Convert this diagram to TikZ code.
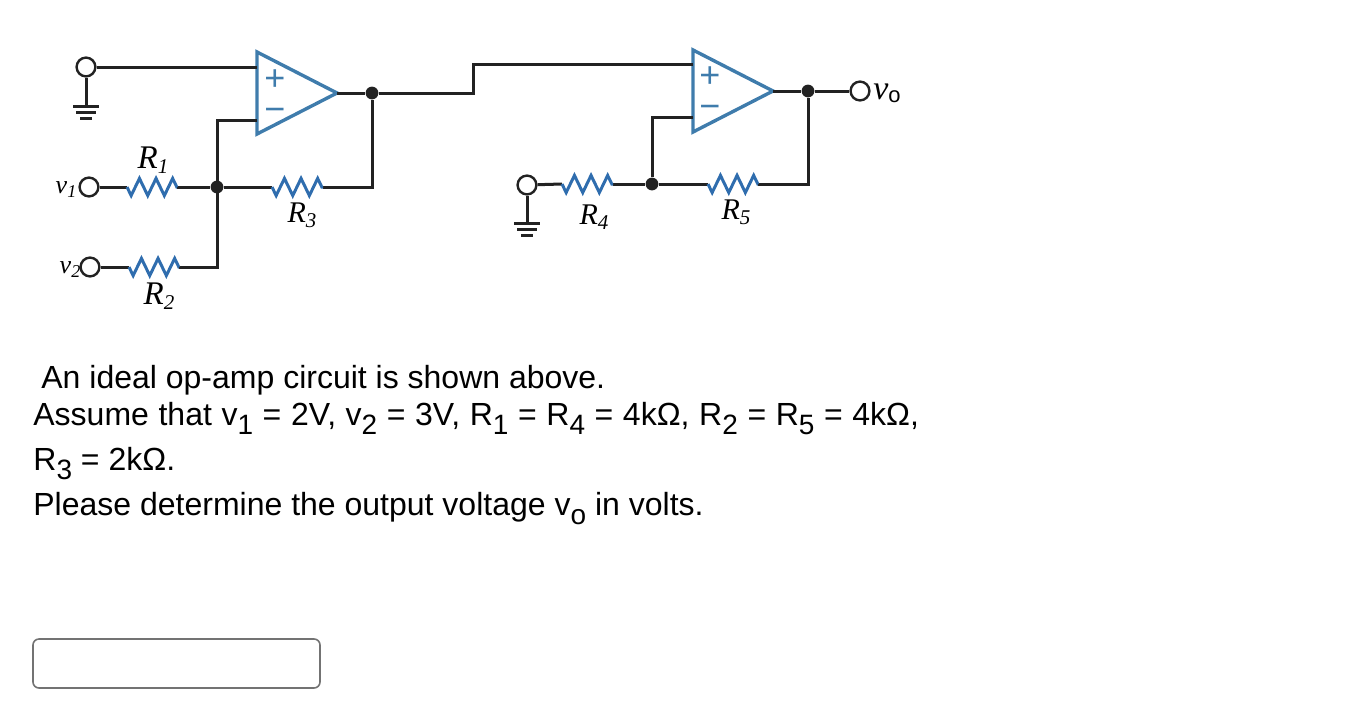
\documentclass[tikz,border=0pt]{standalone}
\usepackage{fontspec}
\setmainfont{Liberation Sans}
\newfontfamily\labelfont{Liberation Serif}
\usetikzlibrary{shapes.geometric,decorations.pathmorphing}
\definecolor{ampblue}{HTML}{3F7CAC}
\definecolor{resblue}{HTML}{2F6DAE}
\definecolor{wirecol}{HTML}{222222}
\newcommand{\lowsub}[1]{\raisebox{-4.6pt}{\fontsize{14pt}{15pt}\selectfont #1}}
\newcommand{\Rlabel}[2]{{\labelfont\fontsize{#1pt}{18pt}\selectfont\itshape R\raisebox{-2.5pt}{\fontsize{10.5pt}{12pt}\selectfont #2}}}
\newcommand{\vlabel}[1]{{\labelfont\fontsize{13pt}{15pt}\selectfont\itshape v\raisebox{-2pt}{\fontsize{9pt}{10pt}\selectfont #1}}}
\begin{document}
\begin{tikzpicture}
		[x=0.5pt,y=-0.5pt,
		wire/.style={draw=wirecol,line width=1.5pt,line join=miter},
		res/.style={draw=resblue,line width=1.5pt,decorate,
decoration={zigzag,segment length=8.3pt,amplitude=4.3pt,mirror}},
		opamp/.style={isosceles triangle,isosceles triangle apex angle=53,isosceles triangle stretches,
draw=ampblue,line width=1.7pt,inner sep=0pt,outer sep=0pt,minimum width=41pt,minimum height=40pt,anchor=apex},
		sign/.style={text=ampblue,font=\fontsize{18pt}{18pt}\selectfont,inner sep=0pt,anchor=base},
		term/.style={circle,draw=wirecol,fill=white,line width=1.2pt,inner sep=0pt,minimum size=9.4pt},
		dot/.style={circle,fill=wirecol,inner sep=0pt,minimum size=6.4pt},
		gndline/.style={draw=wirecol,line width=1.5pt},
		textstyle/.style={anchor=base west,inner sep=0pt,font=\fontsize{16pt}{18pt}\selectfont},
		textlabel/.style={inner sep=0pt}]
		\useasboundingbox (0,0) rectangle (1348,724);
		% first amplifier
		\node at (337, 93) (amp1) [opamp] {};
		\node at (275, 90) (plus1) [sign] {+};
		\node at (275, 121) (minus1) [sign] {−};
		\node at (86, 67) (in1) [term] {};
		\coordinate (amp1p) at (257, 67);
		\coordinate (amp1m) at (257, 120);
		\coordinate (fb1) at (217, 120);
		\coordinate (gnd1) at (86, 106);
		\node at (372, 93) (out1) [dot] {};
		\node at (217, 187) (sum1) [dot] {};
		\node at (89, 187) (v1) [term] {};
		\node at (90, 267) (v2) [term] {};
		\coordinate (r1a) at (127, 187);
		\coordinate (r1b) at (177, 187);
		\coordinate (r2a) at (129, 267);
		\coordinate (r2b) at (179, 267);
		\coordinate (r3a) at (272, 187);
		\coordinate (r3b) at (323, 187);
		\coordinate (back1) at (372, 187);
		\coordinate (tee2) at (217, 267);
		\coordinate (step1) at (473, 93);
		\coordinate (step2) at (473, 64);
		% second amplifier
		\node at (773, 91) (amp2) [opamp] {};
		\node at (710, 87) (plus2) [sign] {+};
		\node at (710, 118) (minus2) [sign] {−};
		\coordinate (amp2p) at (693, 64);
		\coordinate (amp2m) at (693, 117);
		\coordinate (fb2) at (652, 117);
		\node at (652, 184) (sum2) [dot] {};
		\node at (527, 185) (in4) [term] {};
		\coordinate (gnd2) at (527, 223);
		\coordinate (r4a) at (562, 184);
		\coordinate (r4b) at (613, 184);
		\coordinate (r5a) at (708, 184);
		\coordinate (r5b) at (758, 184);
		\coordinate (back2) at (808, 184);
		\node at (808, 91) (out2) [dot] {};
		\node at (860, 91) (vo) [term] {};
		% wires
		\draw[wire] (in1) -- (amp1p);
		\draw[wire] (in1) -- (gnd1);
		\draw[wire] (amp1m) -- (fb1) -- (tee2) -- (r2b);
		\draw[wire] (v1) -- (r1a);
		\draw[wire] (r1b) -- (sum1) -- (r3a);
		\draw[wire] (r3b) -- (back1) -- (out1);
		\draw[wire] (v2) -- (r2a);
		\draw[wire] (amp1.apex) -- (out1) -- (step1) -- (step2) -- (amp2p);
		\draw[wire] (amp2m) -- (fb2) -- (sum2);
		\draw[wire] (in4) -- (gnd2);
		\draw[wire] (in4) -- (r4a);
		\draw[wire] (r4b) -- (sum2) -- (r5a);
		\draw[wire] (r5b) -- (back2) -- (out2);
		\draw[wire] (amp2.apex) -- (out2) -- (vo);
		\draw[res] (r1a) -- (r1b);
		\draw[res] (r2a) -- (r2b);
		\draw[res] (r3a) -- (r3b);
		\draw[res] (r4a) -- (r4b);
		\draw[res] (r5a) -- (r5b);
		% ground bars
		\foreach \g in {gnd1,gnd2} {
			\draw[gndline] ([xshift=-6.5pt]\g) -- ([xshift=6.5pt]\g);
			\draw[gndline] ([xshift=-5pt,yshift=-3pt]\g) -- ([xshift=5pt,yshift=-3pt]\g);
			\draw[gndline] ([xshift=-3pt,yshift=-6pt]\g) -- ([xshift=3pt,yshift=-6pt]\g);
		}
		% labels
		\node at (153, 160) (labelr1) [textlabel] {\Rlabel{16.5}{1}};
		\node at (159, 296) (labelr2) [textlabel] {\Rlabel{16.5}{2}};
		\node at (302, 215) (labelr3) [textlabel] {\Rlabel{15}{3}};
		\node at (594, 217) (labelr4) [textlabel] {\Rlabel{15}{4}};
		\node at (736, 212) (labelr5) [textlabel] {\Rlabel{15}{5}};
		\node at (66, 190) (labelv1) [textlabel] {\vlabel{1}};
		\node at (70, 270) (labelv2) [textlabel] {\vlabel{2}};
		\node at (887, 93) (labelvo) [textlabel] {{\labelfont\fontsize{17pt}{18pt}\selectfont\itshape v}\raisebox{-1.5pt}{\fontsize{11pt}{12pt}\selectfont o}};
		% question text
		\node at (41, 388) (line1) [textstyle] {An ideal op-amp circuit is shown above.};
		\node at (33, 425) (line2) [textstyle] {\spaceskip=4.8pt Assume that v\lowsub{1} = 2V, v\lowsub{2} = 3V, R\lowsub{1} = R\lowsub{4} = 4kΩ, R\lowsub{2} = R\lowsub{5} = 4kΩ,};
		\node at (33, 470) (line3) [textstyle] {R\lowsub{3} = 2kΩ.};
		\node at (33, 515) (line4) [textstyle] {Please determine the output voltage v\lowsub{o} in volts.};
		\node at (176.5, 663.5) (answer) [draw=black!55,line width=0.8pt,rounded corners=3pt,inner sep=0pt,minimum width=143.5pt,minimum height=24.5pt] {};
	\end{tikzpicture}
\end{document}
